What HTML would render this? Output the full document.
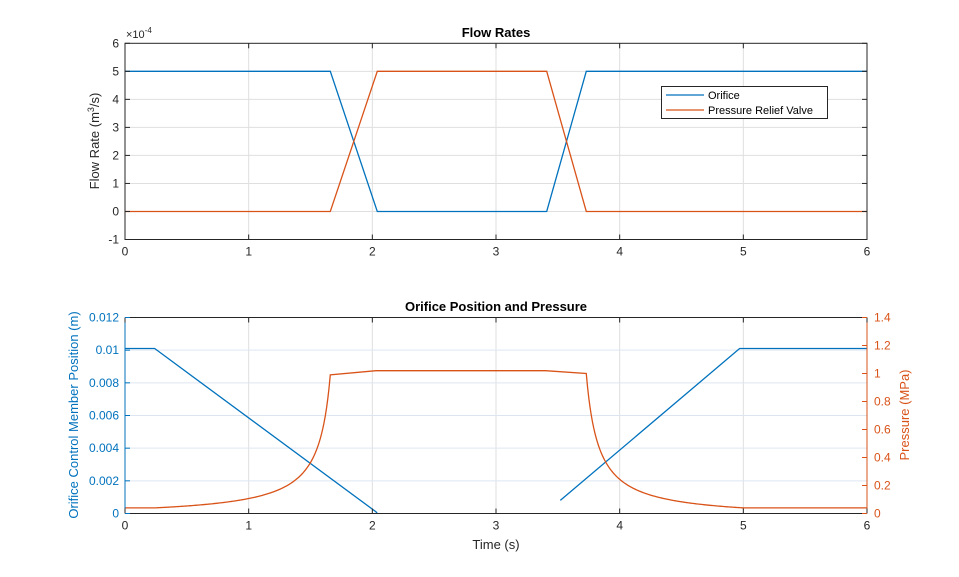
<!DOCTYPE html>
<html><head><meta charset="utf-8"><style>
html,body{margin:0;padding:0;background:#fff;}
svg{display:block;font-family:"Liberation Sans",Arial,sans-serif;}
</style></head><body>
<svg id="s" width="959" height="577" xmlns="http://www.w3.org/2000/svg">
<rect width="959" height="577" fill="#fff"/>
<g id="grid" stroke="#dfdfdf" stroke-width="1"></g>
<g id="lines" fill="none" stroke-width="1.3"></g>
<g id="axes"></g>
</svg>
<script>
const NS="http://www.w3.org/2000/svg";
function el(p,t,a,txt){const e=document.createElementNS(NS,t);for(const k in a)e.setAttribute(k,a[k]);if(txt!==undefined)e.textContent=txt;p.appendChild(e);return e;}
const s=document.getElementById('s'),G=document.getElementById('grid'),L=document.getElementById('lines'),A=document.getElementById('axes');
const X0=125,X1=867;const tx=t=>X0+(X1-X0)*t/6;
// top axes
const T0=43.3,T1=239.5;const ty=v=>T1-(v+1)/7*(T1-T0);
const B0=317.5,B1=513.5;const by=v=>B1-v/0.012*(B1-B0);const py=v=>B1-v/1.4*(B1-B0);
for(let i=1;i<6;i++){el(G,'line',{x1:tx(i),x2:tx(i),y1:T0,y2:T1});el(G,'line',{x1:tx(i),x2:tx(i),y1:B0,y2:B1});}
for(let v=0;v<6;v++)el(G,'line',{x1:X0,x2:X1,y1:ty(v),y2:ty(v)});
for(let i=1;i<6;i++)el(G,'line',{x1:X0,x2:X1,y1:by(i*0.002),y2:by(i*0.002),stroke:'#dde6f0'});
const blue='#0072bd',org='#d95319';
function pl(pts,c){el(L,'polyline',{points:pts.map(p=>p[0].toFixed(2)+','+p[1].toFixed(2)).join(' '),stroke:c});}
pl([[0,5],[1.66,5],[2.04,0],[3.41,0],[3.73,5],[6,5]].map(p=>[tx(p[0]),ty(p[1])]),blue);
pl([[0,0],[1.66,0],[2.04,5],[3.41,5],[3.73,0],[6,0]].map(p=>[tx(p[0]),ty(p[1])]),org);
pl([[0,0.0101],[0.24,0.0101],[2.03,0.0001],[2.04,0]].map(p=>[tx(p[0]),by(p[1])]),blue);
pl([[3.52,0.0008],[4.97,0.0101],[6,0.0101]].map(p=>[tx(p[0]),by(p[1])]),blue);
let pp=[];
const fr=t=>1/(1+(1.66-t)/0.1), fr0=fr(0.24);
pp.push([0,0.04],[0.24,0.04]);
for(let t=0.25;t<=1.66;t+=0.01)pp.push([t,0.04+0.95*(fr(t)-fr0)/(1-fr0)]);
pp.push([1.66,0.99],[2.03,1.02],[3.4,1.02],[3.73,1.0]);
const fd=t=>1/(1+(t-3.73)/0.1),fd5=fd(5);
for(let t=3.74;t<=5;t+=0.01)pp.push([t,0.04+0.96*(fd(t)-fd5)/(1-fd5)]);
pp.push([6,0.04]);
pl(pp.map(p=>[tx(p[0]),py(p[1])]),org);
// axes frames
const ax={stroke:'#262626','stroke-width':1,fill:'none'};
el(A,'rect',Object.assign({x:X0,y:T0,width:X1-X0,height:T1-T0},ax));
el(A,'line',{x1:X0,x2:X1,y1:B0,y2:B0,stroke:'#262626'});
el(A,'line',{x1:X0,x2:X1,y1:B1,y2:B1,stroke:'#262626'});
el(A,'line',{x1:X0,x2:X0,y1:B0,y2:B1,stroke:blue});
el(A,'line',{x1:X1,x2:X1,y1:B0,y2:B1,stroke:org});
const ts={'font-size':12,fill:'#262626'};
for(let i=0;i<=6;i++){
 el(A,'line',{x1:tx(i),x2:tx(i),y1:T1,y2:T1-5,stroke:'#262626'});el(A,'line',{x1:tx(i),x2:tx(i),y1:T0,y2:T0+5,stroke:'#262626'});
 el(A,'line',{x1:tx(i),x2:tx(i),y1:B1,y2:B1-5,stroke:'#262626'});el(A,'line',{x1:tx(i),x2:tx(i),y1:B0,y2:B0+5,stroke:'#262626'});
 el(A,'text',Object.assign({x:tx(i),y:T1+16,'text-anchor':'middle'},ts),i);
 el(A,'text',Object.assign({x:tx(i),y:B1+16,'text-anchor':'middle'},ts),i);
}
for(let v=-1;v<=6;v++){el(A,'line',{x1:X0,x2:X0+5,y1:ty(v),y2:ty(v),stroke:'#262626'});el(A,'line',{x1:X1,x2:X1-5,y1:ty(v),y2:ty(v),stroke:'#262626'});
 el(A,'text',Object.assign({x:X0-6,y:ty(v)+4,'text-anchor':'end'},ts),v);}
const bl=['0','0.002','0.004','0.006','0.008','0.01','0.012'];
for(let i=0;i<=6;i++){const y=by(i*0.002);el(A,'line',{x1:X0,x2:X0+5,y1:y,y2:y,stroke:blue});
 el(A,'text',{x:X0-6,y:y+4,'text-anchor':'end','font-size':12,fill:blue},bl[i]);}
const pr=['0','0.2','0.4','0.6','0.8','1','1.2','1.4'];
for(let i=0;i<=7;i++){const y=py(i*0.2);el(A,'line',{x1:X1,x2:X1-5,y1:y,y2:y,stroke:org});
 el(A,'text',{x:X1+7,y:y+4,'font-size':12,fill:org},pr[i]);}
el(A,'text',{x:496,y:37,'text-anchor':'middle','font-size':13,'font-weight':'bold',fill:'#000'},'Flow Rates');
el(A,'text',{x:496,y:311,'text-anchor':'middle','font-size':13,'font-weight':'bold',fill:'#000'},'Orifice Position and Pressure');
const e10=el(A,'text',{x:126,y:38,'font-size':11,fill:'#262626'},'×10');el(e10,'tspan',{dy:-5,'font-size':8},'-4');
const yl=el(A,'text',{transform:'translate(99,141) rotate(-90)','text-anchor':'middle','font-size':13,fill:'#262626'},'Flow  Rate  (m');
el(yl,'tspan',{dy:-5,'font-size':9},'3');el(yl,'tspan',{dy:5},'/s)');
el(A,'text',{transform:'translate(78,415) rotate(-90)','text-anchor':'middle','font-size':13,fill:blue},'Orifice Control Member Position (m)');
el(A,'text',{transform:'translate(909,415) rotate(-90)','text-anchor':'middle','font-size':13,fill:org},'Pressure (MPa)');
el(A,'text',{x:496,y:549,'text-anchor':'middle','font-size':13,fill:'#262626'},'Time (s)');
// legend
el(A,'rect',{x:661.5,y:86.5,width:166,height:32,fill:'#fff',stroke:'#262626'});
el(A,'line',{x1:666,x2:704,y1:95,y2:95,stroke:blue,'stroke-width':1.3});
el(A,'line',{x1:666,x2:704,y1:110,y2:110,stroke:org,'stroke-width':1.3});
el(A,'text',{x:708,y:99,'font-size':11,fill:'#000'},'Orifice');
el(A,'text',{x:708,y:114,'font-size':11,fill:'#000'},'Pressure Relief Valve');
</script>
</body></html>
